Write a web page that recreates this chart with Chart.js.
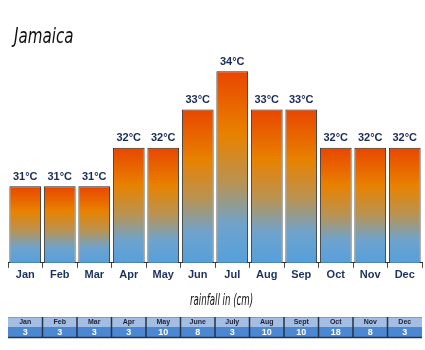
<!DOCTYPE html>
<html>
<head>
<meta charset="utf-8">
<title>Jamaica</title>
<script src="https://cdn.jsdelivr.net/npm/chart.js@4.4.0/dist/chart.umd.min.js"></script>
<style>
  html, body { margin: 0; padding: 0; background: #fff; }
  #myChart { display: block; }
</style>
</head>
<body>
<canvas id="myChart" width="425" height="350"></canvas>
<script>
// datos del clima
const meses = ["Jan", "Feb", "Mar", "Apr", "May", "Jun", "Jul", "Aug", "Sep", "Oct", "Nov", "Dec"]
const temperaturas = [31, 31, 31, 32, 32, 33, 34, 33, 33, 32, 32, 32]
const mesesTabla = ["Jan", "Feb", "Mar", "Apr", "May", "June", "July", "Aug", "Sept", "Oct", "Nov", "Dec"]
const lluvia = [3, 3, 3, 3, 10, 8, 3, 10, 10, 18, 8, 3]

const fuenteCondensada = "'DejaVu Sans Condensed', 'Open Sans', sans-serif"

function degradado(context) {
    const chart = context.chart
    if (!chart.chartArea || context.type !== 'data') return '#e88400'
    const y = chart.scales.y
    const arriba = y.getPixelForValue(context.raw)
    const abajo = chart.chartArea.bottom
    const g = chart.ctx.createLinearGradient(0, arriba, 0, abajo)
    g.addColorStop(0, '#e84600')
    g.addColorStop(0.33, '#e88200')
    g.addColorStop(0.58, '#b99352')
    g.addColorStop(0.8, '#6fa3cc')
    g.addColorStop(1, '#55a0dc')
    return g
}

// texto estrecho (titulo y leyenda de lluvia)
function textoEstrecho(ctx, texto, x, y, size, escala) {
    ctx.save()
    ctx.font = "italic " + size + "px " + fuenteCondensada
    ctx.fillStyle = '#111'
    ctx.textBaseline = 'alphabetic'
    ctx.translate(x, y)
    ctx.scale(escala, 1)
    ctx.fillText(texto, 0, 0)
    ctx.restore()
}

const textos = {
    id: 'textos',
    afterDraw(chart) {
        textoEstrecho(chart.ctx, 'Jamaica', 14, 43, 21, 0.8)
        textoEstrecho(chart.ctx, 'rainfall in (cm)', 190, 305, 15, 0.64)
    }
}

// etiquetas encima de cada barra
const etiquetas = {
    id: 'etiquetas',
    afterDatasetsDraw(chart) {
        const ctx = chart.ctx
        const meta = chart.getDatasetMeta(0)
        ctx.save()
        ctx.font = "bold 11px 'Liberation Sans', Arial, sans-serif"
        ctx.fillStyle = '#1b2b58'
        ctx.textAlign = 'center'
        ctx.textBaseline = 'bottom'
        meta.data.forEach((bar, i) => {
            ctx.fillText(temperaturas[i] + '°C', bar.x, bar.y - 4)
        })
        ctx.restore()
    }
}

// tabla de lluvia debajo del eje
const tabla = {
    id: 'tabla',
    afterDraw(chart) {
        const ctx = chart.ctx
        const x = chart.scales.x
        const ancho = x.width / meses.length
        const y1 = 317, alto = 10
        ctx.save()
        ctx.textAlign = 'center'
        ctx.textBaseline = 'middle'
        mesesTabla.forEach((m, i) => {
            const cx = x.getPixelForValue(i)
            const izq = cx - ancho / 2
            ctx.fillStyle = '#a3bee2'
            ctx.fillRect(izq, y1, ancho, alto)
            ctx.fillStyle = '#4c87d1'
            ctx.fillRect(izq, y1 + alto, ancho, alto)
            ctx.font = "bold 7px 'Liberation Sans', Arial, sans-serif"
            ctx.fillStyle = '#1c2238'
            ctx.fillText(m, cx, y1 + alto / 2 + 0.5)
            ctx.font = "bold 9px 'Liberation Sans', Arial, sans-serif"
            ctx.fillStyle = '#ffffff'
            ctx.fillText(lluvia[i], cx, y1 + alto * 1.5 + 0.5)
        })
        ctx.strokeStyle = '#8a9ab8'
        ctx.lineWidth = 1
        ctx.beginPath()
        ctx.moveTo(x.left, y1 + 0.5)
        ctx.lineTo(x.right, y1 + 0.5)
        ctx.stroke()
        ctx.strokeStyle = '#26324a'
        ctx.lineWidth = 1.5
        ctx.beginPath()
        for (let i = 1; i < meses.length; i++) {
            const px = x.left + ancho * i
            ctx.moveTo(px, y1)
            ctx.lineTo(px, y1 + alto * 2)
        }
        ctx.moveTo(x.left, y1 + alto * 2 + 0.5)
        ctx.lineTo(x.right, y1 + alto * 2 + 0.5)
        ctx.stroke()
        ctx.restore()
    }
}

const data = {
    labels: meses,
    datasets: [{
        label: 'Temperatura',
        data: temperaturas,
        backgroundColor: degradado,
        borderColor: '#2a2a2a',
        borderWidth: 1,
        barPercentage: 0.92,
        categoryPercentage: 1
    }]
}

const config = {
    type: 'bar',
    data: data,
    options: {
        responsive: false,
        animation: false,
        layout: { padding: { left: 8, right: 3, top: 52, bottom: 67 } },
        plugins: {
            legend: { display: false },
            tooltip: { enabled: false },
            title: { display: false }
        },
        scales: {
            y: { display: false, min: 29, max: 34.5 },
            x: {
                grid: { display: true, drawOnChartArea: false, drawTicks: true, tickLength: 5, color: '#444', offset: true },
                border: { display: true, color: '#333', width: 1 },
                ticks: {
                    color: '#1d305e',
                    padding: 1,
                    font: { family: "'Liberation Sans', Arial, sans-serif", size: 11, weight: 'bold' }
                }
            }
        }
    },
    plugins: [etiquetas, tabla, textos]
}

let myChart = new Chart(document.getElementById('myChart'), config)
</script>
</body>
</html>
